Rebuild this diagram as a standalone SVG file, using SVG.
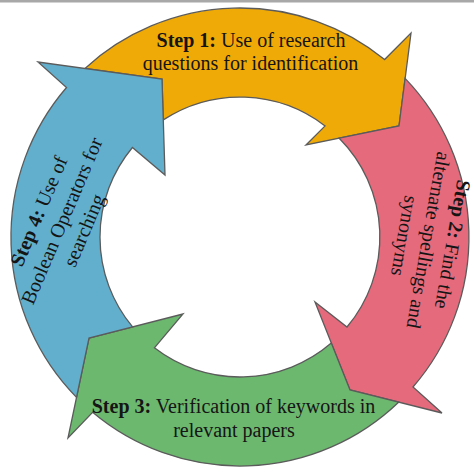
<svg xmlns="http://www.w3.org/2000/svg" width="474" height="474" viewBox="0 0 474 474">
<style>
.arrow{stroke:#5b5b5b;stroke-width:1.3;stroke-linejoin:miter}
.t{font-family:"Liberation Serif","Times New Roman",serif;font-size:20px;fill:#151515;text-anchor:middle}
.b{font-weight:bold}
</style>
<rect width="474" height="474" fill="#ffffff"/>
<rect x="0" y="0" width="474" height="2.5" fill="#a8a8a8"/>
<g id="step1">
<path class="arrow" fill="#F0AA08" d="M85,68.4 A229,229 0 0 1 384.6,59.5 L411,33 L399,126 L306,145 L325.1,125.9 A140,140 0 0 0 163.3,119.9 L162,79 Z"/>
<text class="t" x="251" y="47"><tspan class="b">Step 1:</tspan> Use of research</text>
<text class="t" x="250.5" y="70">questions for identification</text>
</g>
<g id="step2">
<path class="arrow" fill="#E56A7C" d="M405.1,78.4 A229,229 0 0 1 413,387 L442,413 L350,390 L315,302 L347,327 A140,140 0 0 0 339.2,138.2 L399,126 Z"/>
<g transform="translate(422,239) rotate(100)">
<text class="t" y="-24.5"><tspan class="b">Step 2:</tspan> Find the</text>
<text class="t" y="0">alternate spellings and</text>
<text class="t" y="24.5">synonyms</text>
</g>
</g>
<g id="step3">
<path class="arrow" fill="#6CB86F" d="M398.6,402.2 A229,229 0 0 1 92.6,412.3 L68,438 L89,338 L183,314 L154.4,347.8 A140,140 0 0 0 331.3,343.1 L350,390 Z"/>
<text class="t" x="233.5" y="413"><tspan class="b">Step 3:</tspan> Verification of keywords in</text>
<text class="t" x="234" y="437">relevant papers</text>
</g>
<g id="step4">
<path class="arrow" fill="#61AFCD" d="M76.5,397.4 A229,229 0 0 1 66.5,87.5 L38,62 L162,79 L165,175 L132.4,147.5 A140,140 0 0 0 132.6,326.9 L89,338 Z"/>
<g transform="translate(68,223.5) rotate(-67)">
<text class="t" y="-25"><tspan class="b">Step 4:</tspan> Use of</text>
<text class="t" y="0">Boolean Operators for</text>
<text class="t" y="24">searching</text>
</g>
</g>
</svg>
